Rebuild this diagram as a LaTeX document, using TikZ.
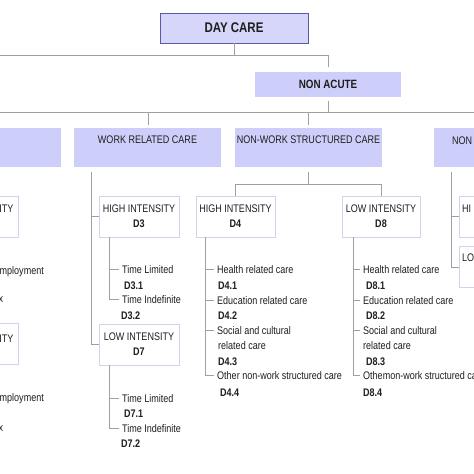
\documentclass[tikz,border=0pt]{standalone}
\usepackage{fontspec}
\setmainfont{Liberation Sans}[FakeStretch=0.82]
\definecolor{dayfill}{RGB}{214,214,250}
\definecolor{dayborder}{RGB}{90,90,170}
\definecolor{catfill}{RGB}{206,206,250}
\definecolor{linegray}{RGB}{160,160,160}
\definecolor{wborder}{RGB}{210,210,232}
\definecolor{txt}{RGB}{30,30,30}
\tikzset{
  conn/.style={draw=linegray, line width=0.8pt},
  daybox/.style={draw=dayborder, line width=0.9pt, fill=dayfill, minimum width=148pt, minimum height=30pt, inner sep=0pt, text=txt, font=\fontsize{14pt}{16pt}\selectfont\bfseries},
  acutebox/.style={fill=catfill, minimum width=146pt, minimum height=25pt, inner sep=0pt, text=txt, font=\fontsize{12pt}{14pt}\selectfont\bfseries},
  catbox/.style={fill=catfill, minimum width=147pt, minimum height=39pt, inner sep=0pt},
  cattext/.style={inner sep=0pt, text=txt, font=\fontsize{11pt}{15pt}\selectfont},
  wbox/.style={draw=wborder, line width=0.8pt, fill=white, minimum width=80pt, minimum height=41pt, inner sep=0pt, align=center, text=txt, font=\fontsize{11pt}{15pt}\selectfont},
  item/.style={anchor=west, inner xsep=3pt, inner ysep=0pt, text height=8pt, text depth=0pt, text=txt, font=\fontsize{11pt}{15pt}\selectfont},
  code/.style={anchor=west, inner xsep=0pt, inner ysep=0pt, text height=8pt, text depth=0pt, text=txt, font=\fontsize{11pt}{15pt}\selectfont\bfseries},
  frag/.style={inner sep=0pt, text height=8pt, text depth=0pt, text=txt, font=\fontsize{11pt}{15pt}\selectfont},
}
\begin{document}
\begin{tikzpicture}[x=1pt,y=-1pt]
\useasboundingbox (0,0) rectangle (474,474);
\clip (0,0) rectangle (474,474);
\fill[white] (0,0) rectangle (474,474);

% top levels
\node[daybox] (daycare) at (234,28) {DAY CARE};
\node[acutebox] (nonacute) at (328,84.5) {NON ACUTE};
\coordinate (j1) at (234,55);
\coordinate (jl) at (0,55);
\coordinate (jr) at (328,55);
\draw[conn] (daycare.south) -- (j1);
\draw[conn] (jl) -- (jr) -- ([yshift=5pt]nonacute.north);

% categories
\node[catbox] (leftcat) at (-12.5,147.5) {};
\node[catbox] (work) at (147.5,147.5) {};
\node[catbox] (nonwork) at (308.5,147.5) {};
\node[catbox] (noncat) at (507.5,147.5) {};
\node[cattext] (worktxt) at (147.5,140) {WORK RELATED CARE};
\node[cattext] (nonworktxt) at (308.5,140) {NON-WORK STRUCTURED CARE};
\node[frag, anchor=west] (nontxt) at (452,140) {NON};

\coordinate (k1) at (328,112);
\coordinate (kl) at (0,112);
\coordinate (kr) at (474,112);
\draw[conn] ([yshift=-4pt]nonacute.south) -- (k1);
\draw[conn] (kl) -- (kr);
\draw[conn] (148,112) coordinate (kw) -- ([yshift=3pt]work.north -| kw);
\draw[conn] (308,112) coordinate (kn) -- ([yshift=3pt]nonwork.north -| kn);

% ===== work related subtree =====
\node[wbox] (d3) at (139,216.5) {HIGH INTENSITY\\\textbf{D3}};
\node[wbox] (d7) at (139,344.5) {LOW INTENSITY\\\textbf{D7}};
\coordinate (w0) at (91,172);
\draw[conn] (w0) |- (d3.west);
\draw[conn] (w0) |- (d7.west);

\node[item] (t31) at (119,269) {Time Limited};
\node[code] (c31) at (124,285) {D3.1};
\node[item] (t32) at (119,299) {Time Indefinite};
\node[code] (c32) at (121,315) {D3.2};
\coordinate (l3) at (109,237);
\draw[conn] (l3) |- (t31.west);
\draw[conn] (l3) |- (t32.west);

\node[item] (t71) at (119,398) {Time Limited};
\node[code] (c71) at (124,413) {D7.1};
\node[item] (t72) at (119,428) {Time Indefinite};
\node[code] (c72) at (121,443) {D7.2};
\coordinate (l7) at (109,365);
\draw[conn] (l7) |- (t71.west);
\draw[conn] (l7) |- (t72.west);

% ===== non-work structured subtree =====
\node[wbox, minimum width=79pt] (d4) at (235.5,216.5) {HIGH INTENSITY\\\textbf{D4}};
\node[wbox, minimum width=78pt] (d8) at (381,216.5) {LOW INTENSITY\\\textbf{D8}};
\coordinate (n0) at (308,172);
\coordinate (n1) at (308,184);
\draw[conn] (n0) -- (n1);
\draw[conn] (n1) -| (d4.north);
\draw[conn] (n1) -| (d8.north);

\node[item] (t41) at (214,269) {Health related care};
\node[code] (c41) at (218,285) {D4.1};
\node[item] (t42) at (214,300) {Education related care};
\node[code] (c42) at (218,315) {D4.2};
\node[item] (t43) at (214,330) {Social and cultural};
\node[frag, anchor=west] (t43b) at (218,345) {related care};
\node[code] (c43) at (218,361) {D4.3};
\node[item] (t44) at (214,375) {Other non-work structured care};
\node[code] (c44) at (220,392) {D4.4};
\coordinate (l4) at (205,237);
\draw[conn] (l4) |- (t41.west);
\draw[conn] (l4) |- (t42.west);
\draw[conn] (l4) |- (t43.west);
\draw[conn] (l4) |- (t44.west);

\node[item] (t81) at (360,269) {Health related care};
\node[code] (c81) at (366,285) {D8.1};
\node[item] (t82) at (360,300) {Education related care};
\node[code] (c82) at (366,315) {D8.2};
\node[item] (t83) at (360,330) {Social and cultural};
\node[frag, anchor=west] (t83b) at (363,345) {related care};
\node[code] (c83) at (366,361) {D8.3};
\node[item] (t84) at (360,375) {Othemon-work structured ca};
\node[code] (c84) at (363,392) {D8.4};
\coordinate (l8) at (353,237);
\draw[conn] (l8) |- (t81.west);
\draw[conn] (l8) |- (t82.west);
\draw[conn] (l8) |- (t83.west);
\draw[conn] (l8) |- (t84.west);

% ===== right subtree (clipped) =====
\node[wbox] (rhi) at (499,216.5) {};
\node[wbox] (rlo) at (499,267) {};
\node[frag, anchor=west] (rhitxt) at (462,208) {HI};
\node[frag, anchor=west] (rlotxt) at (462,257) {LO};
\coordinate (r0) at (451,172);
\draw[conn] (r0) |- (rhi.west);
\draw[conn] (r0) |- (rlo.west);

% ===== left subtree (clipped) =====
\node[wbox] (lhi) at (-22,216.5) {};
\node[wbox] (llo) at (-22,344) {};
\node[frag, anchor=east] (lhitxt) at (13.5,208) {ITY};
\node[frag, anchor=east] (llotxt) at (13.5,338) {ITY};
\node[frag, anchor=west] (le1) at (-0.5,270) {mployment};
\node[frag, anchor=west] (le2) at (-1.5,298) {x};
\node[frag, anchor=west] (le3) at (-0.5,397) {mployment};
\node[frag, anchor=west] (le4) at (-1.5,427) {x};
\end{tikzpicture}
\end{document}
